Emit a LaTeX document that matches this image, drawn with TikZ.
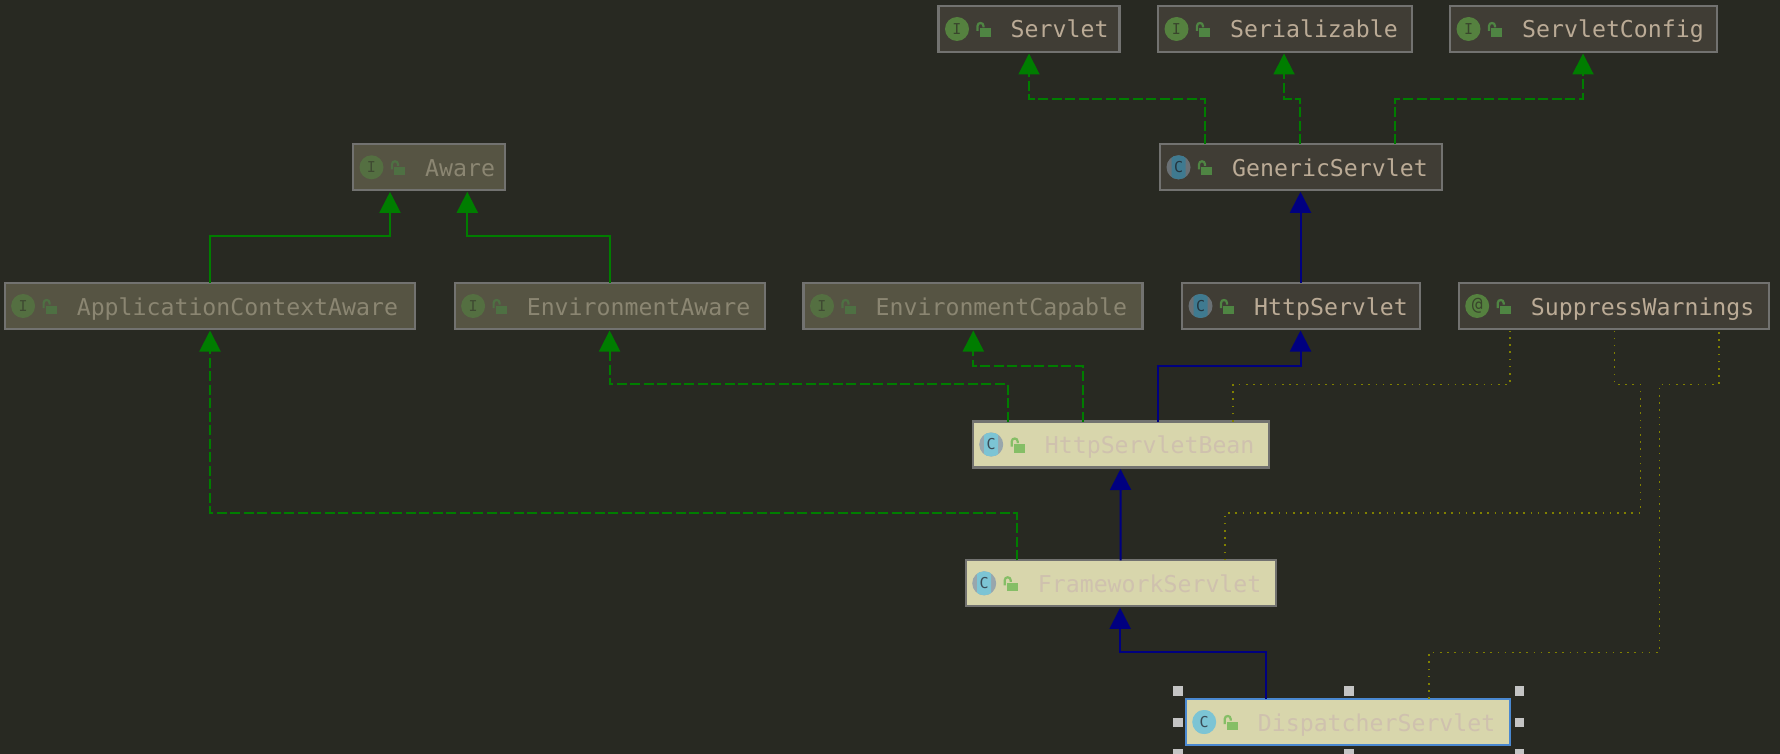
\documentclass[tikz,border=0pt]{standalone}
\usepackage{fontspec}
\setmainfont{DejaVu Sans Mono}
\usetikzlibrary{arrows.meta,calc}
\definecolor{bgc}{HTML}{282922}
\definecolor{boxdark}{HTML}{403D35}
\definecolor{boxfade}{HTML}{565443}
\definecolor{boxlight}{HTML}{D8D6AC}
\definecolor{edgec}{HTML}{727270}
\definecolor{selc}{HTML}{4A88D0}
\definecolor{txtdark}{HTML}{BBAB96}
\definecolor{txtfade}{HTML}{8B8672}
\definecolor{txtlight}{HTML}{CFC1AE}
\definecolor{impl}{HTML}{007D00}
\definecolor{ext}{HTML}{000080}
\definecolor{anno}{HTML}{808000}
\definecolor{handlec}{HTML}{C4C4C4}
\definecolor{icoD}{HTML}{55813F}
\definecolor{icoDt}{HTML}{39452C}
\definecolor{lockD}{HTML}{4F8543}
\definecolor{icoF}{HTML}{546F41}
\definecolor{icoFt}{HTML}{3F4A32}
\definecolor{lockF}{HTML}{4E7043}
\definecolor{greyD}{HTML}{6A7074}
\definecolor{tealD}{HTML}{3F7A90}
\definecolor{tealDt}{HTML}{243640}
\definecolor{greyL}{HTML}{98A6AC}
\definecolor{tealL}{HTML}{7CC4D4}
\definecolor{tealLt}{HTML}{3A4C58}
\definecolor{lockL}{HTML}{85BE66}
\tikzset{
 x=1pt,y=-1pt,
 cls/.style={draw=edgec,line width=2.2pt,inner sep=0pt,outer sep=0pt,anchor=north west,minimum height=46pt,fill=boxdark},
 clsfade/.style={cls,fill=boxfade},
 clslight/.style={cls,fill=boxlight},
 clssel/.style={clslight,draw=selc},
 tip/.style={-{Triangle[length=21pt,width=21pt]}},
 implline/.style={tip,impl,line width=2pt,dash pattern=on 10pt off 3.5pt},
 inhline/.style={tip,impl,line width=2pt},
 extline/.style={tip,ext,line width=2pt},
 annoline/.style={anno,line width=1.6pt,dash pattern=on 1.6pt off 5.6pt},
 handle/.style={fill=handlec,draw=none,minimum size=9.5pt,inner sep=0pt,outer sep=0pt},
}
% #1 name, #2 style, #3 left, #4 top, #5 width, #6 text, #7 icon, #8 text colour, #9 lock colour
\newcommand{\umlbox}[9]{%
 \node[#2,minimum width=#5pt] (#1) at (#3,#4) {};
 \node[anchor=base west,inner sep=0pt,text=#8] (#1-label) at ($(#1.west)+(72,9)$) {\fontsize{23.2pt}{26pt}\selectfont #6};
 #7
 \fill[#9] ($(#1.west)+(41.3,-0.5)$) rectangle ($(#1.west)+(52.3,8)$);
 \draw[#9,line width=2.2pt] ($(#1.west)+(39,2)$) -- ($(#1.west)+(39,-3)$) .. controls ($(#1.west)+(39,-7)$) and ($(#1.west)+(45,-7)$) .. ($(#1.west)+(45,-3)$) -- ($(#1.west)+(45,-1.5)$);
}
\newcommand{\iconL}[5]{%
 \fill[#2] ($(#1.west)+(18.5,0)$) circle[radius=12pt];
 \node[inner sep=0pt,text=#3,font=\fontsize{#5pt}{#5pt}\selectfont] at ($(#1.west)+(18.5,0)$) {#4};
}
\newcommand{\iconC}[4]{%
 \fill[#2] ($(#1.west)+(18.5,0)$) circle[radius=12pt];
 \begin{scope}
 \clip ($(#1.west)+(11.5,-13)$) rectangle ($(#1.west)+(25.5,13)$);
 \fill[#3] ($(#1.west)+(18.5,0)$) circle[radius=12pt];
 \end{scope}
 \node[inner sep=0pt,text=#4,font=\fontsize{15pt}{15pt}\selectfont] at ($(#1.west)+(18.5,0)$) {C};
}
\begin{document}
\begin{tikzpicture}
\fill[bgc] (0,0) rectangle (1780,754);
\useasboundingbox (0,0) rectangle (1780,754);

\umlbox{servlet}{cls}{938.5}{6}{181}{Servlet}{\iconL{servlet}{icoD}{icoDt}{I}{15}}{txtdark}{lockD}
\umlbox{serial}{cls}{1158}{6}{254}{Serializable}{\iconL{serial}{icoD}{icoDt}{I}{15}}{txtdark}{lockD}
\umlbox{config}{cls}{1450}{6}{267}{ServletConfig}{\iconL{config}{icoD}{icoDt}{I}{15}}{txtdark}{lockD}
\umlbox{generic}{cls}{1160}{144.3}{282}{GenericServlet}{\iconC{generic}{greyD}{tealD}{tealDt}}{txtdark}{lockD}
\umlbox{aware}{clsfade}{353}{144.3}{152}{Aware}{\iconL{aware}{icoF}{icoFt}{I}{15}}{txtfade}{lockF}
\umlbox{appctx}{clsfade}{4.6}{283}{410}{ApplicationContextAware}{\iconL{appctx}{icoF}{icoFt}{I}{15}}{txtfade}{lockF}
\umlbox{envaware}{clsfade}{454.6}{283}{310}{EnvironmentAware}{\iconL{envaware}{icoF}{icoFt}{I}{15}}{txtfade}{lockF}
\umlbox{envcap}{clsfade}{803.5}{283}{339}{EnvironmentCapable}{\iconL{envcap}{icoF}{icoFt}{I}{15}}{txtfade}{lockF}
\umlbox{http}{cls}{1182}{283}{238}{HttpServlet}{\iconC{http}{greyD}{tealD}{tealDt}}{txtdark}{lockD}
\umlbox{suppress}{cls}{1458.7}{283}{310}{SuppressWarnings}{\iconL{suppress}{icoD}{icoDt}{@}{18}}{txtdark}{lockD}
\umlbox{bean}{clslight}{972.7}{421.5}{296}{HttpServletBean}{\iconC{bean}{greyL}{tealL}{tealLt}}{txtlight}{lockL}
\umlbox{framework}{clslight}{965.7}{560.3}{310.5}{FrameworkServlet}{\iconC{framework}{greyL}{tealL}{tealLt}}{txtlight}{lockL}
\umlbox{dispatcher}{clssel}{1185.7}{699}{324.5}{DispatcherServlet}{\iconC{dispatcher}{tealL}{tealL}{tealLt}}{txtlight}{lockL}

% implements
\draw[implline] ([xshift=45pt]generic.north west) -- ++(0,-45.7) -| ([xshift=90.5pt,yshift=-1.5pt]servlet.south west);
\draw[implline] ([xshift=140pt]generic.north west) -- ++(0,-45.7) -| ([xshift=126pt,yshift=-1.5pt]serial.south west);
\draw[implline] ([xshift=235pt]generic.north west) -- ++(0,-45.7) -| ([xshift=133pt,yshift=-1.5pt]config.south west);
\draw[implline] ([xshift=35.5pt]bean.north west) -- ++(0,-37.2) -| ([xshift=155pt,yshift=-1.5pt]envaware.south west);
\draw[implline] ([xshift=110.7pt]bean.north west) -- ++(0,-55.2) -| ([xshift=169.8pt,yshift=-1.5pt]envcap.south west);
\draw[implline] ([xshift=50.8pt]framework.north west) -- ++(0,-47.3) -| ([xshift=205.4pt,yshift=-1.5pt]appctx.south west);
% interface inheritance
\draw[inhline] ([xshift=205.4pt]appctx.north west) -- ++(0,-46.7) -| ([xshift=37pt,yshift=-1.5pt]aware.south west);
\draw[inhline] ([xshift=155pt]envaware.north west) -- ++(0,-46.7) -| ([xshift=114.3pt,yshift=-1.5pt]aware.south west);
% extends
\draw[extline] ([xshift=118.5pt]http.north west) -- ([xshift=140.5pt,yshift=-1.5pt]generic.south west);
\draw[extline] ([xshift=185.4pt]bean.north west) -- ++(0,-55.2) -| ([xshift=118.5pt,yshift=-1.5pt]http.south west);
\draw[extline] ([xshift=154.9pt]framework.north west) -- ([xshift=147.8pt,yshift=-1.5pt]bean.south west);
\draw[extline] ([xshift=79.8pt]dispatcher.north west) -- ++(0,-46.7) -| ([xshift=154.4pt,yshift=-1.5pt]framework.south west);
% annotations
\draw[annoline] ([xshift=260pt]bean.north west) -- ++(0,-37.2) -| ([xshift=51pt,yshift=-1.5pt]suppress.south west);
\draw[annoline] ([xshift=259.3pt]framework.north west) -- ++(0,-47.3) -| ($(suppress.south west)+(181.6,55.3)$) -| ([xshift=155.7pt,yshift=-1.5pt]suppress.south west);
\draw[annoline] ([xshift=243.3pt]dispatcher.north west) -- ++(0,-46.7) -| ($(suppress.south west)+(200.7,55.3)$) -| ([xshift=260pt,yshift=-1.5pt]suppress.south west);
\node[handle] (h1) at (1177.8,691) {};
\node[handle] (h2) at (1348.8,691) {};
\node[handle] (h3) at (1519.4,691) {};
\node[handle] (h4) at (1177.8,722.7) {};
\node[handle] (h5) at (1519.4,722.7) {};
\node[handle] (h6) at (1177.8,754) {};
\node[handle] (h7) at (1348.8,754) {};
\node[handle] (h8) at (1519.4,754) {};
\end{tikzpicture}
\end{document}
